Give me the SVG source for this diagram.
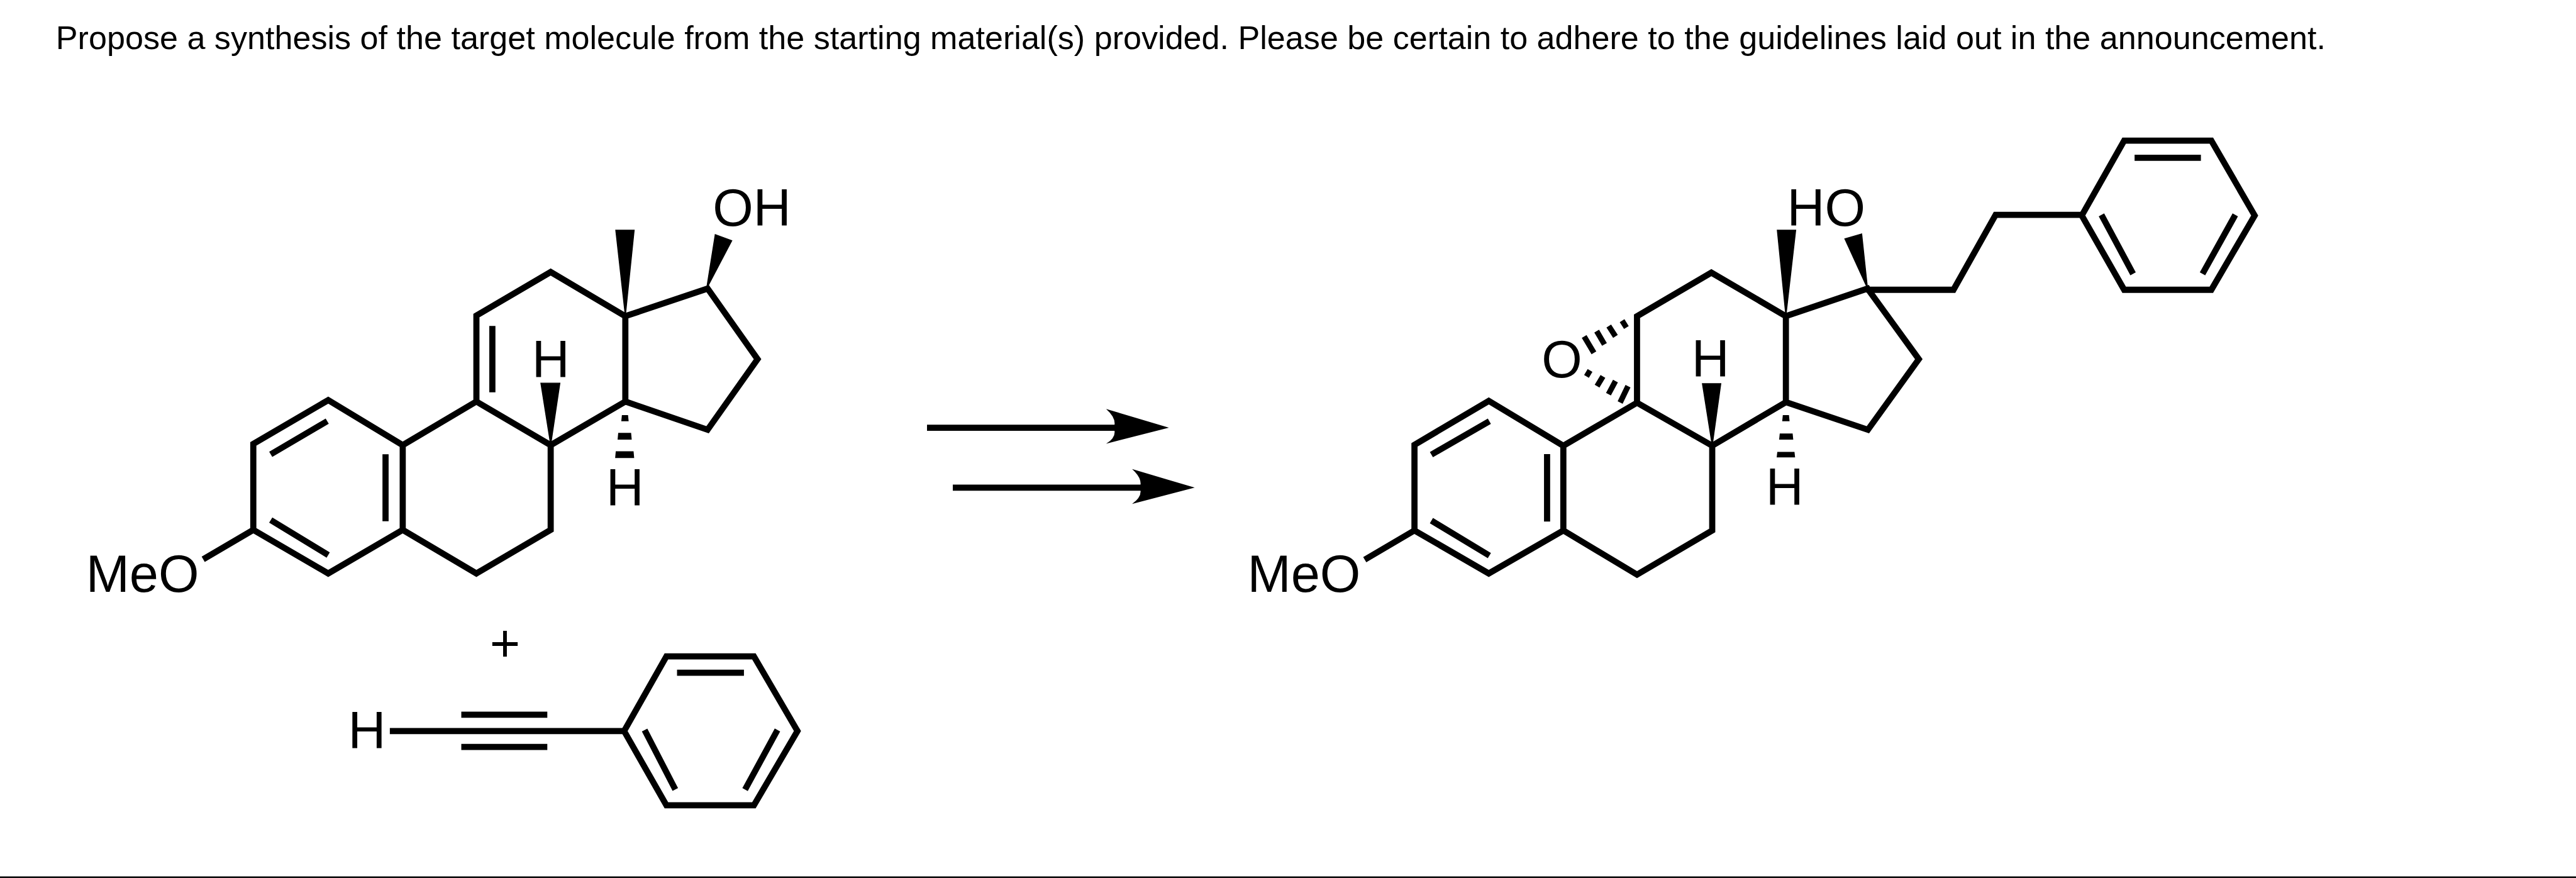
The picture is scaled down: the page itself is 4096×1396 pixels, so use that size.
<svg xmlns="http://www.w3.org/2000/svg" width="4096" height="1396" viewBox="0 0 4096 1396">
<defs><style>
.b{fill:none;stroke:#000;stroke-width:10;stroke-linejoin:miter;stroke-linecap:butt}
.r{fill:none;stroke:#000;stroke-width:10;stroke-linejoin:miter;stroke-linecap:round}
.a{fill:none;stroke:#000;stroke-width:10}
.t{font-family:"Liberation Sans",Arial,sans-serif;font-size:85px;fill:#000}
.f{fill:#000}
.w{fill:#000;stroke:#000;stroke-width:1.5}
.m{text-anchor:middle}
.h{fill:none;stroke:#000;stroke-width:9}
</style></defs>
<rect width="4096" height="1396" fill="#fff"/>
<g transform="scale(0.97617)">
<g id="prompt"><text x="91" y="80" font-family="'Liberation Sans',Arial,sans-serif" font-size="53.4" fill="#000">Propose a synthesis of the target molecule from the starting material(s) provided. Please be certain to adhere to the guidelines laid out in the announcement.</text></g>
<g id="estradiol-derivative">
<path class="r" d="M534.6 651.7L412.6 723V863L534.6 934L656 863V725ZM656 725L776 654L897 725L1018.6 654V515L897 443L776 514V654M897 725V863L776 934L656 863M1018.6 515L1152.6 470L1234 585L1152.6 700L1018.6 654"/>
<path class="b" d="M412.6 863L331 911M802 531V639M628 740V849M533 686L441 740M441 847L534.6 904"/>
<polygon class="w" points="1018.6,515 1003,375 1033,375"/>
<polygon class="w" points="1151,470 1165,382 1192,392"/>
<polygon class="w" points="897,725 881,624 912,624"/>
<path class="f" d="M1013 676h10l1 10h-12ZM1007 705h21l1 11h-23ZM1003 735h29l1 11h-31Z"/>
<text class="t m" x="897" y="615">H</text>
<text class="t m" x="1018" y="824">H</text>
<text class="t" x="1161" y="368">OH</text>
<text class="t" x="140" y="964">MeO</text>
</g>
<g id="phenylacetylene">
<text class="t m" x="822.6" y="1077">+</text>
<text class="t m" x="597.6" y="1219">H</text>
<path class="b" d="M635 1190.7H1016.6M751.4 1164H891.5M751.4 1216.7H891.5"/>
<path class="r" d="M1016.6 1190.7L1085.5 1069H1228L1299 1190.7L1228 1311.7H1085.5Z"/>
<path class="b" d="M1102.8 1095.7H1211.8M1050 1189L1100 1286M1266.4 1189L1213.6 1286"/>
</g>
<g id="product">
<path class="r" d="M2425 653L2304 724.5V864L2425 934L2546.5 864V726ZM2546.5 726L2666.5 656L2789 726L2909 655V515L2787.6 444L2666.5 515V656M2789 726V864L2666.5 936L2546.5 864M2909 515L3042 470L3125.5 585L3042.6 700L2909 655M3042 472H3182L3250.6 350H3391"/>
<path class="b" d="M2304 864L2223 911.6M2520 739.5V849.5M2426 686L2331.6 740.5M2331.6 848L2426 905"/>
<path class="r" d="M3391 351L3460 229H3602L3672.6 351L3602 472H3460Z"/>
<path class="b" d="M3477 257H3585M3423 350L3474.5 446M3641 350L3587.6 446"/>
<polygon class="w" points="2909,515 2895,375 2925,375"/>
<polygon class="w" points="3042,470 3005,389 3032.5,381"/>
<polygon class="w" points="2789,726 2773,625 2803,625"/>
<path class="f" d="M2904 676h10l1 10h-12ZM2899 706h21l1 10h-23ZM2895 736h28l1 9h-30Z"/>
<path class="h" d="M2642.2 522.3L2649.2 533.5M2620.5 531L2631.4 548M2600.8 539.3L2613.5 561M2580.4 548L2596.3 574.7M2590 603.3L2584.2 613M2611 613L2601.4 629M2631.4 620.7L2620 642M2651.8 629L2639 655.6"/>
<text class="t m" x="2786" y="614">H</text>
<text class="t m" x="2907" y="823">H</text>
<text class="t" x="2511" y="615">O</text>
<text class="t" x="2911" y="368">HO</text>
<text class="t" x="2032" y="964">MeO</text>
</g>
<g id="connectors">
<path class="a" d="M1510 696.7H1820M1552 794.3H1862"/>
<path class="f" d="M1904 696.7L1801.7 666Q1820 682 1814.3 696.7Q1820 712 1801.7 722.7Z"/>
<path class="f" d="M1946 794.3L1844 764Q1862 780 1856.7 794.3Q1862 808 1844 820.7Z"/>
</g>
<rect id="rule" x="0" y="1427.5" width="4196" height="2.5" fill="#000"/>
</g>
</svg>
